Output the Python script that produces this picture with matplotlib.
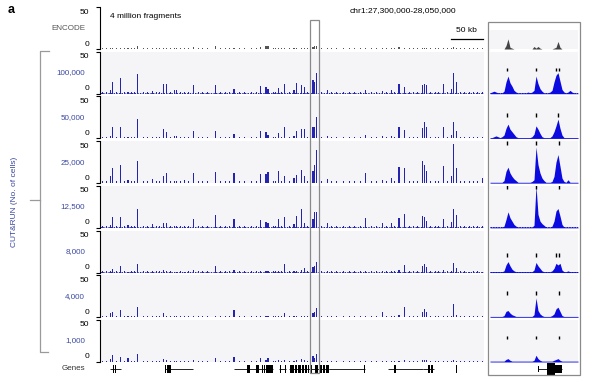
import matplotlib

matplotlib.use("Agg")
import matplotlib.pyplot as plt
from matplotlib.lines import Line2D
from matplotlib.patches import Rectangle
from matplotlib.transforms import blended_transform_factory

plt.rcParams["font.family"] = ["Liberation Sans", "DejaVu Sans"]

# ---- data (main view, x in kb from 27,300,000) ----
TRACKS = ["ENCODE", "100,000", "50,000", "25,000", "12,500", "8,000", "4,000", "1,000"]

PEAK_POS = [21, 25, 40, 55, 73, 102, 124, 130, 145, 150, 165, 183, 226, 262, 313,
            324, 328, 349, 361, 379, 384, 393, 399, 416, 419, 423, 444, 519, 552,
            569, 584, 595, 630, 634, 638, 671, 686, 691, 696, 722, 747]

PEAK_H = [
    # ENCODE
    [1, 1, 1, 1, 3, 1, 1, 1, 1, 1, 1, 2, 3, 1, 2, 4, 3, 1, 1, 1, 1, 1, 1, 2, 3, 3,
     1, 1, 1, 1, 2, 1, 1, 1, 1, 1, 1, 2, 1, 1, 1],
    # 100,000
    [4, 14, 19, 2, 24, 3, 11, 11, 4, 4, 2, 10, 10, 6, 9, 8, 6, 7, 11, 4, 13, 10, 8,
     16, 14, 25, 5, 4, 3, 5, 12, 8, 10, 12, 10, 11, 6, 25, 14, 2, 2],
    # 50,000
    [3, 13, 13, 2, 23, 2, 11, 7.5, 3, 3, 2, 9, 9, 5, 9, 7.5, 4, 6, 13.5, 3, 9, 11.5,
     11, 14, 13, 26, 3, 3.5, 3, 3, 13, 10, 12, 19, 14, 13, 4, 20, 9, 2, 2],
    # 25,000
    [8, 18, 21, 4, 26, 5, 9, 12, 3, 3, 4, 12, 13, 12, 11, 11, 13, 14, 8, 6, 10, 16,
     9, 14, 21, 40, 5, 12, 4, 6, 19, 18, 26, 22, 14, 20, 8, 46, 18, 2, 6],
    # 12,500
    [3, 13, 13, 3, 22, 5, 6, 6, 2, 2, 2, 10, 15.5, 10, 9, 7, 6, 10, 13.5, 4, 14, 23,
     6, 11, 19, 19, 6, 12, 6, 6, 12, 16, 14, 13, 8, 11, 7, 22, 15, 2, 2],
    # 8,000
    [2, 4, 8, 1, 10, 2, 3, 2, 1, 1, 1, 3, 8, 3, 2, 2, 2, 2, 10, 2, 2, 3, 5, 7, 8, 13,
     2, 2, 2, 2, 3, 9, 8, 10, 7, 3, 2, 11, 5, 1, 1],
    # 4,000
    [5, 6, 9, 1, 12, 2, 5, 2, 1, 1, 1, 2, 2, 9, 2, 2, 2, 2, 5, 1, 2, 2, 2, 5, 6, 11,
     2, 2, 6, 2, 3, 12, 6, 10, 6, 2, 2, 16, 3, 1, 1],
    # 1,000
    [3, 8, 6, 5, 9, 1, 3, 2, 1, 1, 1, 2, 5, 6, 5, 2, 5, 2, 2, 1, 2, 4, 2, 7, 5, 9, 1,
     1, 1, 1, 1, 2, 2, 2, 2, 1, 1, 2, 1, 1, 1],
]

# small background blips along the baseline
MINOR_POS = [5, 12, 33, 47, 62, 68, 85, 92, 110, 117, 138, 158, 172, 192, 200, 210,
             235, 245, 252, 272, 283, 295, 305, 338, 343, 355, 370, 405, 432, 452,
             462, 475, 488, 498, 508, 530, 540, 560, 576, 604, 612, 620, 645, 655,
             662, 678, 705, 712, 730, 738]
MINOR_H = [1, 2, 2, 2.5, 2, 1.5, 1.5, 1.5]

GENE_STARTS = [20, 127, 262, 350, 370, 448, 562, 630]
GENE_ENDS = [41, 182, 337, 364, 448, 517, 630, 652]
GENE_EXONS = [(19.5, 20.5), (26, 27), (30, 31), (40.5, 41.5), (127, 129), (130, 132),
              (133, 136), (137, 139), (140, 141), (181.5, 182.5), (287, 293),
              (305, 310), (316, 319), (320, 323), (324, 328), (329, 332), (333, 337),
              (352, 354), (362, 364), (372, 378), (380, 385), (387, 392), (394, 398),
              (400, 404), (406, 409), (412, 414), (419, 421), (422, 425), (430, 434),
              (436, 440), (442, 447), (516.5, 517.5), (575, 578), (641, 644),
              (646, 650), (696, 698)]

HIGHLIGHT = (411, 427)

# ---- data (zoomed view on the right, x in bins) ----
RX = list(range(0, 90, 2))
RIGHT_PROF = [
    [0, 0, 0, 0, 0, 0, 0, 0, 4, 12, 2, 1, 0, 0, 0, 0, 0, 0, 0, 0, 0, 0, 3, 1, 3, 1, 0,
     0, 0, 0, 0, 0, 1, 2, 9, 2, 0, 0, 0, 0, 0, 0, 0, 0, 0],
    [1, 2, 3, 2, 1, 1, 1, 3, 14, 21, 13, 9, 4, 2, 1, 1, 1, 1, 1, 2, 1, 2, 4, 21, 12, 6,
     3, 1, 1, 1, 2, 4, 14, 22, 25, 15, 5, 2, 1, 2, 4, 2, 1, 1, 1],
    [1, 1, 2, 3, 2, 1, 2, 4, 12, 17, 11, 8, 5, 2, 1, 1, 1, 1, 1, 1, 1, 2, 5, 15, 11, 6,
     2, 1, 1, 1, 1, 3, 8, 15, 23, 12, 4, 1, 1, 1, 1, 1, 1, 1, 1],
    [1, 1, 1, 1, 1, 1, 1, 3, 14, 19, 12, 8, 5, 3, 1, 1, 1, 1, 1, 1, 1, 2, 4, 43, 22, 12,
     6, 3, 1, 1, 1, 2, 8, 25, 34, 20, 6, 2, 1, 4, 1, 1, 1, 1, 1],
    [1, 1, 1, 1, 1, 1, 1, 2, 10, 19, 12, 8, 4, 2, 1, 1, 1, 1, 1, 1, 1, 1, 3, 50, 16, 8,
     5, 3, 1, 1, 1, 2, 8, 20, 23, 14, 4, 1, 1, 1, 1, 1, 1, 1, 1],
    [1, 1, 1, 1, 1, 1, 1, 2, 9, 13, 8, 4, 2, 1, 1, 1, 1, 1, 1, 1, 1, 1, 3, 12, 8, 5, 2,
     1, 1, 1, 1, 2, 5, 11, 9, 11, 3, 1, 1, 2, 1, 1, 1, 1, 1],
    [1, 1, 1, 1, 1, 1, 1, 2, 7, 8, 5, 3, 2, 1, 1, 1, 1, 1, 1, 1, 1, 1, 3, 23, 8, 4, 2,
     1, 1, 1, 1, 2, 4, 10, 12, 7, 2, 1, 1, 1, 1, 1, 1, 1, 1],
    [1, 1, 1, 1, 1, 1, 1, 1, 3, 4, 2, 1, 1, 1, 1, 1, 1, 1, 1, 1, 1, 1, 2, 8, 4, 2, 1, 1,
     1, 1, 1, 1, 2, 3, 4, 2, 1, 1, 1, 1, 1, 1, 1, 1, 1],
]
CALL_X = [[], [17, 46, 66, 69], [17, 46, 68], [17, 46, 69], [17, 46, 69],
          [17, 46, 66, 69], [17, 46, 69], [17, 46, 69]]
CALL_Y = [0, 29, 28, 48, 48.5, 21, 29, 29]

RIGHT_GENE_LINE = (48, 72)
RIGHT_GENE_EXONS = [(47.5, 48.5), (57, 65), (65, 72)]
RIGHT_EXON_H = [0.5, 1.1, 0.7]

BLUE = "#2424b0"
FILL = "#0b0be0"
LABEL_BLUE = "#3a48a0"
BG = "#f5f5f8"
W, H = 600, 382


def frac(x0, y0, x1, y1):
    return [x0 / W, 1 - y1 / H, (x1 - x0) / W, (y1 - y0) / H]


fig = plt.figure(figsize=(6, 3.82), dpi=100)

PITCH = 44.71
main_axes = []
for i, name in enumerate(TRACKS):
    top = 7 + i * PITCH
    bot = top + 42
    ax = fig.add_axes(frac(100, top, 484, bot))
    main_axes.append(ax)
    ax.set_xlim(0, 750)
    ax.set_ylim(0, 50)
    enc = i == 0
    ax.set_facecolor("white" if enc else BG)
    col = "#555555" if enc else BLUE
    ax.bar(MINOR_POS, MINOR_H[i], width=2.0, color=col, linewidth=0)
    ax.bar(PEAK_POS, PEAK_H[i], width=2.6, color=col, linewidth=0)
    ax.plot([0, 750], [0.5, 0.5], color=col, lw=0.7, ls=(0, (1.5, 1.2)))
    for s in ["top", "right", "bottom"]:
        ax.spines[s].set_visible(False)
    ax.spines["left"].set_linewidth(0.8)
    ax.set_xticks([])
    ax.set_yticks([0, 50])
    ax.set_yticklabels([])
    ax.tick_params(axis="y", length=3, width=0.8)
    fig.text(89 / W, 1 - (top + 5) / H, "50", ha="right", va="center", fontsize=6)
    fig.text(89 / W, 1 - (bot - 5) / H, "0", ha="right", va="center", fontsize=6)
    fig.text(85 / W, 1 - (top + 21) / H, name, ha="right", va="center", fontsize=5.8,
             color="#555555" if enc else LABEL_BLUE)

    # zoomed panel
    rax = fig.add_axes(frac(490, top, 578, bot))
    rax.set_xlim(0, 88)
    rax.set_ylim(0, 50)
    rax.set_facecolor("none")
    rax.axhspan(0, 22.6 if enc else 50, color=BG, lw=0)
    rcol = "#444444" if enc else FILL
    rax.fill_between(RX, RIGHT_PROF[i], color=rcol, lw=0)
    rax.plot([0, 88], [0.5, 0.5], color=rcol, lw=0.7, ls=(0, (1.5, 1.2)))
    if CALL_X[i]:
        rax.vlines(CALL_X[i], CALL_Y[i] - 2.2, CALL_Y[i] + 2.2, color="black", lw=1.0)
    rax.axis("off")

# genes
gax = fig.add_axes(frac(100, 363, 484, 375))
gax.set_xlim(0, 750)
gax.set_ylim(-1, 1)
gax.axis("off")
gax.hlines([0] * len(GENE_STARTS), GENE_STARTS, GENE_ENDS, color="black", lw=0.6)
gax.bar([(s + e) / 2 for s, e in GENE_EXONS], 1.4, bottom=-0.7,
        width=[e - s for s, e in GENE_EXONS], color="black", lw=0)
rgax = fig.add_axes(frac(490, 363, 578, 375))
rgax.set_xlim(0, 88)
rgax.set_ylim(-1, 1)
rgax.axis("off")
rgax.hlines(0, RIGHT_GENE_LINE[0], RIGHT_GENE_LINE[1], color="black", lw=0.6)
rgax.bar([(s + e) / 2 for s, e in RIGHT_GENE_EXONS], [2 * h for h in RIGHT_EXON_H],
         bottom=[-h for h in RIGHT_EXON_H],
         width=[e - s for s, e in RIGHT_GENE_EXONS], color="black", lw=0)
fig.text(85 / W, 1 - 369 / H, "Genes", ha="right", va="center", fontsize=5.8,
         color="#333333")

# highlight box through all tracks
tr = blended_transform_factory(main_axes[0].transData, fig.transFigure)
fig.add_artist(Rectangle((HIGHLIGHT[0], 1 - 373 / H), HIGHLIGHT[1] - HIGHLIGHT[0],
                         353 / H, transform=tr, fill=False, ec="#8a8a8a", lw=0.9))
# box round zoomed panel
fig.add_artist(Rectangle((488 / W, 1 - 375 / H), 92 / W, 353 / H,
                         transform=fig.transFigure, fill=False, ec="#8a8a8a", lw=0.9))

# annotations
enc_ax = main_axes[0]
enc_ax.text(0.025, 0.78, "4 million fragments", transform=enc_ax.transAxes,
            fontsize=6, va="center")
enc_ax.plot([0.914, 0.997], [0.24, 0.24], transform=enc_ax.transAxes, color="black",
            lw=0.9, clip_on=False)
enc_ax.text(0.955, 0.43, "50 kb", transform=enc_ax.transAxes, fontsize=6,
            ha="center", va="center")
fig.text(403 / W, 1 - 11 / H, "chr1:27,300,000-28,050,000", ha="center",
         va="center", fontsize=6)
fig.text(8 / W, 1 - 10 / H, "a", fontsize=9, fontweight="bold", va="center")

# bracket for CUT&RUN tracks
bx = [49 / W, 40 / W, 40 / W, 48 / W]
by = [1 - 51 / H, 1 - 51 / H, 1 - 352 / H, 1 - 352 / H]
fig.add_artist(Line2D(bx, by, color="#9a9a9a", lw=0.9))
fig.add_artist(Line2D([30 / W, 40 / W], [1 - 200 / H, 1 - 200 / H], color="#9a9a9a",
                      lw=0.9))
fig.text(15 / W, 1 - 202 / H, "CUT&RUN (No. of cells)", rotation=90, ha="center",
         va="center", fontsize=6, color=LABEL_BLUE)

fig.savefig("out.png", dpi=100)
